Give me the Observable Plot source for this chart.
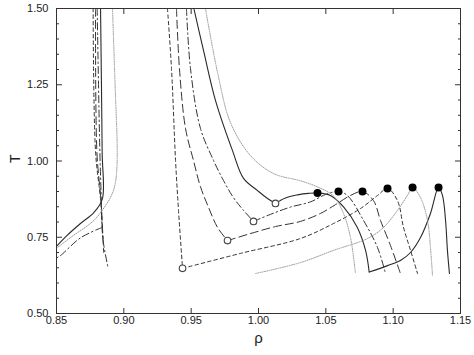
<!DOCTYPE html>
<html><head><meta charset="utf-8">
<script src="https://cdn.jsdelivr.net/npm/d3@7"></script>
<script src="https://cdn.jsdelivr.net/npm/@observablehq/plot@0.6"></script>
<style>html,body{margin:0;padding:0;background:#fff}svg{display:block}</style>
</head><body><div id="chart"></div>
<script>
// Tick values
const xTicks = [0.85, 0.90, 0.95, 1.00, 1.05, 1.10, 1.15];
const yTicks = [0.50, 0.75, 1.00, 1.25, 1.50];
const yMinorTicks = [0.55, 0.60, 0.65, 0.70, 0.80, 0.85, 0.90, 0.95, 1.05, 1.10, 1.15, 1.20, 1.30, 1.35, 1.40, 1.45];

// Curves: [rho, T]
const solidUpper = [[0.952,1.5],[0.9592,1.362],[0.9681,1.198],[0.9807,1.034],[0.9889,0.943],[0.9993,0.903],[1.0067,0.877],[1.0126,0.861]];
const solidRight = [[1.0126,0.861],[1.0200,0.879],[1.0290,0.889],[1.0371,0.894],[1.0438,0.895],[1.0534,0.887],[1.0633,0.849],[1.0733,0.783],[1.0795,0.707],[1.0822,0.636]];
const solidLower = [[1.0822,0.636],[1.0958,0.657],[1.1054,0.674],[1.1129,0.700],[1.1203,0.749],[1.1277,0.828],[1.1337,0.913],[1.1366,0.887],[1.1389,0.805],[1.1403,0.707],[1.1418,0.631]];
const solidLeft = [[0.8827,1.5],[0.8839,1.03],[0.8840,0.875],[0.8777,0.831],[0.8678,0.795],[0.8579,0.756],[0.85,0.72]];

const dashDotUpper = [[0.9465,1.5],[0.9495,1.303],[0.9569,1.107],[0.9666,1.002],[0.9740,0.936],[0.9814,0.880],[0.9889,0.838],[0.9963,0.802]];
const dashDotRight = [[0.9963,0.802],[1.0089,0.825],[1.0238,0.849],[1.0386,0.866],[1.0497,0.890],[1.0594,0.900],[1.0660,0.887],[1.0780,0.805],[1.0884,0.716],[1.0943,0.631]];
const dashDotLeft = [[0.8802,1.5],[0.8822,1.03],[0.8833,0.87],[0.8838,0.782],[0.8849,0.730],[0.8884,0.647]];
const dashDotLeftArc = [[0.8838,0.782],[0.8678,0.748],[0.8530,0.690],[0.85,0.682]];

const longDashUpper = [[0.9391,1.5],[0.9413,1.303],[0.9458,1.107],[0.9517,1.002],[0.9569,0.916],[0.9629,0.848],[0.9696,0.782],[0.9770,0.739]];
const longDashRight = [[0.9770,0.739],[0.9940,0.762],[1.0126,0.785],[1.0312,0.802],[1.0460,0.828],[1.0572,0.857],[1.0683,0.887],[1.0772,0.900],[1.0854,0.870],[1.0906,0.805],[1.0980,0.723],[1.1054,0.631]];
const longDashLeft = [[0.8790,1.5],[0.8800,1.03],[0.8830,0.87],[0.8850,0.70]];

const shortDashUpper = [[0.9324,1.5],[0.9354,1.303],[0.9384,1.002],[0.9406,0.838],[0.9436,0.648]];
const shortDashRight = [[0.9436,0.648],[0.9866,0.697],[1.0312,0.746],[1.0557,0.795],[1.0757,0.844],[1.0884,0.887],[1.0958,0.910],[1.1032,0.870],[1.1077,0.782],[1.1129,0.707],[1.1181,0.631]];
const shortDashLeft = [[0.8772,1.5],[0.8790,1.03],[0.8828,0.87],[0.8845,0.74]];

const dottedUpper = [[0.9606,1.5],[0.9696,1.290],[0.9792,1.126],[0.9940,1.018],[1.0111,0.959],[1.0312,0.935],[1.0438,0.915],[1.0557,0.885],[1.0631,0.828],[1.0683,0.749],[1.0720,0.631]];
const dottedLower = [[0.9978,0.631],[1.0312,0.667],[1.0557,0.707],[1.0810,0.746],[1.0928,0.782],[1.1032,0.838],[1.1106,0.887],[1.1144,0.913],[1.1203,0.880],[1.1255,0.805],[1.1277,0.716],[1.1292,0.625]];
const dottedLeft = [[0.8916,1.5],[0.8935,1.25],[0.8951,1.034],[0.8946,0.96],[0.8936,0.926],[0.8914,0.893],[0.8864,0.854],[0.8777,0.805],[0.8604,0.749],[0.85,0.714]];

// Markers
const openRho = [1.0126, 0.9963, 0.9770, 0.9436];
const openT = [0.861, 0.802, 0.739, 0.648];
const filledRho = [1.0438, 1.0594, 1.0772, 1.0958, 1.1144, 1.1337];
const filledT = [0.895, 0.900, 0.900, 0.910, 0.913, 0.913];

const styles = {
  solid: {stroke: "#2a2a2a", strokeWidth: 1.1, strokeDasharray: null},
  dashDot: {stroke: "#333", strokeWidth: 1, strokeDasharray: "7,3,1.5,3"},
  longDash: {stroke: "#333", strokeWidth: 1, strokeDasharray: "8,4"},
  shortDash: {stroke: "#333", strokeWidth: 1, strokeDasharray: "3.5,3"},
  dotted: {stroke: "#9a9a9a", strokeWidth: 1, strokeDasharray: "1,1.3"}
};

const curves = [
  [solidUpper, "solid"], [solidRight, "solid"], [solidLower, "solid"], [solidLeft, "solid"],
  [dashDotUpper, "dashDot"], [dashDotRight, "dashDot"], [dashDotLeft, "dashDot"], [dashDotLeftArc, "dashDot"],
  [longDashUpper, "longDash"], [longDashRight, "longDash"], [longDashLeft, "longDash"],
  [shortDashUpper, "shortDash"], [shortDashRight, "shortDash"], [shortDashLeft, "shortDash"],
  [dottedUpper, "dotted"], [dottedLower, "dotted"], [dottedLeft, "dotted"]
];

const openPts = openRho.map((r, i) => ({rho: r, T: openT[i]}));
const filledPts = filledRho.map((r, i) => ({rho: r, T: filledT[i]}));
const fmt = d3.format(".2f");
const axisColor = "#333";

const lineMarks = curves.map(([pts, s]) => Plot.line(pts, {
  x: d => d[0], y: d => d[1], curve: "catmull-rom", clip: true,
  ...styles[s]
}));

const chart = Plot.plot({
  width: 474, height: 355,
  marginLeft: 56, marginRight: 14, marginTop: 8, marginBottom: 42,
  style: {fontFamily: "'Liberation Sans', Arial, sans-serif", fontSize: "11px", color: "#222", background: "#fff"},
  x: {domain: [0.85, 1.15]},
  y: {domain: [0.5, 1.5]},
  marks: [
    ...lineMarks,
    Plot.dot(openPts, {x: "rho", y: "T", r: 3.3, fill: "white", stroke: "#444", strokeWidth: 1.1}),
    Plot.dot(filledPts, {x: "rho", y: "T", r: 4, fill: "#000", stroke: "none"}),
    Plot.frame({stroke: axisColor, strokeWidth: 1}),
    // inward ticks
    Plot.axisX({ticks: xTicks, anchor: "bottom", tickSize: 5, dy: -5, text: null, label: null, stroke: axisColor}),
    Plot.axisX({ticks: xTicks, anchor: "top", tickSize: 5, dy: 5, text: null, label: null, stroke: axisColor}),
    Plot.axisY({ticks: yTicks, anchor: "left", tickSize: 6, dx: 6, text: null, label: null, stroke: axisColor}),
    Plot.axisY({ticks: yTicks, anchor: "right", tickSize: 6, dx: -6, text: null, label: null, stroke: axisColor}),
    Plot.axisY({ticks: yMinorTicks, anchor: "left", tickSize: 3, dx: 3, text: null, label: null, stroke: axisColor}),
    Plot.axisY({ticks: yMinorTicks, anchor: "right", tickSize: 3, dx: -3, text: null, label: null, stroke: axisColor}),
    // labels
    Plot.axisX({ticks: xTicks, anchor: "bottom", tickSize: 0, tickPadding: 3, tickFormat: fmt, label: null, fontSize: 11}),
    Plot.axisY({ticks: yTicks, anchor: "left", tickSize: 0, tickPadding: 8, tickFormat: fmt, label: null, fontSize: 11}),
    Plot.text(["ρ"], {frameAnchor: "bottom", dy: 29, fontSize: 15, text: d => d}),
    Plot.text(["T"], {frameAnchor: "left", dx: -41, dy: 2, rotate: -90, fontSize: 14, text: d => d})
  ]
});
document.getElementById("chart").appendChild(chart);
</script>
</body></html>
